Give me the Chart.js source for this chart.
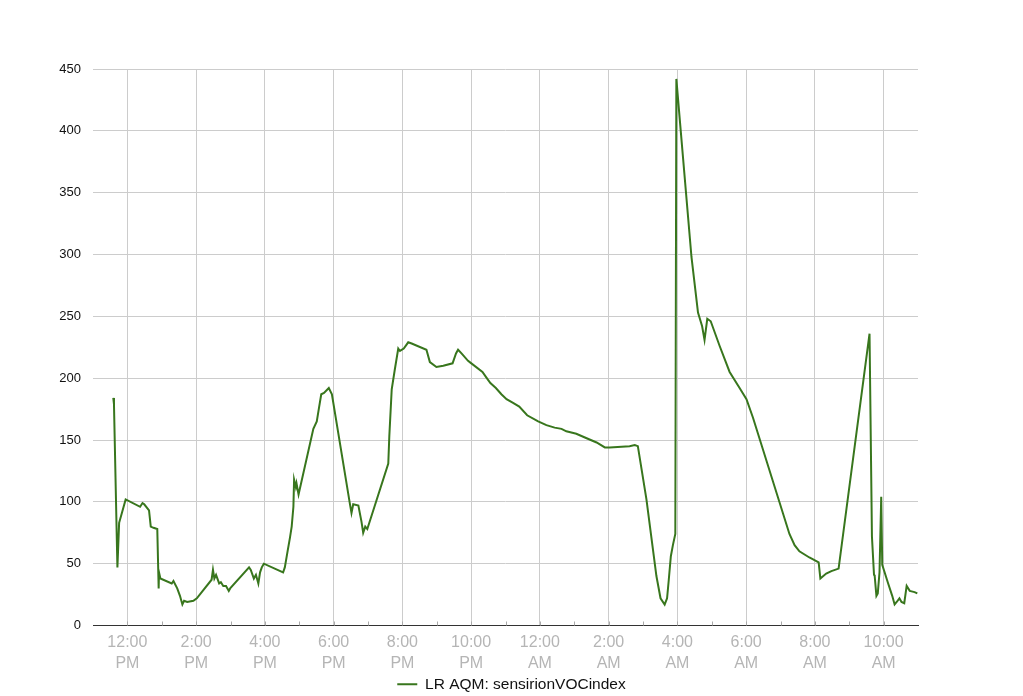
<!DOCTYPE html>
<html>
<head>
<meta charset="utf-8">
<title>LR AQM: sensirionVOCindex</title>
<script src="https://cdn.jsdelivr.net/npm/chart.js@4"></script>
<style>
    html, body { margin: 0; padding: 0; background: #fff; overflow: hidden; }
    #chartBox { width: 1023px; height: 702px; }
</style>
</head>
<body>
<div id="chartBox"><canvas id="vocChart"></canvas></div>
<script>
// hours since midnight of the first day (24 = 12:00 AM next day)
const times = [
    11.59, 11.61, 11.71, 11.76, 11.84, 11.95, 12.37, 12.44, 12.49, 12.63,
    12.68, 12.76, 12.87, 12.91, 12.92, 12.96, 13.29, 13.34, 13.45, 13.53,
    13.60, 13.65, 13.74, 13.92, 14.02, 14.45, 14.49, 14.53, 14.58, 14.67,
    14.72, 14.79, 14.87, 14.95, 14.99, 15.54, 15.59, 15.68, 15.74, 15.81,
    15.86, 15.91, 15.97, 16.53, 16.58, 16.66, 16.73, 16.78, 16.83, 16.85,
    16.90, 16.92, 16.98, 17.41, 17.51, 17.58, 17.64, 17.72, 17.86, 17.95,
    18.47, 18.52, 18.57, 18.72, 18.81, 18.86, 18.92, 18.98, 19.59, 19.62,
    19.69, 19.78, 19.88, 19.93, 20.04, 20.17, 20.27, 20.70, 20.80, 20.99,
    21.19, 21.46, 21.56, 21.62, 21.72, 21.91, 21.96, 22.33, 22.43, 22.56,
    22.72, 22.88, 23.03, 23.22, 23.40, 23.63, 23.95, 24.19, 24.43, 24.63,
    24.77, 25.06, 25.31, 25.65, 25.89, 26.03, 26.61, 26.76, 26.85, 27.10,
    27.39, 27.51, 27.63, 27.70, 27.75, 27.81, 27.87, 27.94, 27.97, 28.07,
    28.41, 28.60, 28.72, 28.79, 28.87, 28.97, 29.23, 29.52, 29.81, 30.01,
    30.20, 31.26, 31.41, 31.55, 31.84, 32.11, 32.16, 32.33, 32.48, 32.69,
    33.59, 33.66, 33.72, 33.74, 33.79, 33.83, 33.88, 33.93, 33.96, 34.12,
    34.25, 34.32, 34.38, 34.46, 34.52, 34.60, 34.67, 34.76, 34.90, 34.98
];

const vocIndex = [
    184, 179, 47, 83, 91, 102, 96, 99, 98, 93,
    80, 79, 78, 30, 43, 38, 34, 36, 30, 24,
    17, 20, 19, 20, 22, 37, 45, 38, 41, 34,
    35, 32, 32, 28, 30, 47, 45, 38, 41, 34,
    43, 47, 50, 43, 47, 60, 71, 80, 96, 118,
    112, 115, 106, 159, 165, 177, 187, 188, 192, 187,
    99, 91, 98, 97, 84, 75, 80, 78, 131, 153,
    191, 207, 224, 222, 224, 229, 228, 223, 213, 209,
    210, 212, 220, 223, 220, 214, 213, 205, 201, 196,
    192, 187, 183, 180, 177, 170, 165, 162, 160, 159,
    157, 155, 152, 148, 144, 144, 145, 146, 145, 102,
    40, 22, 17, 22, 37, 56, 65, 74, 442, 409,
    298, 253, 242, 231, 248, 246, 226, 205, 192, 183,
    168, 74, 65, 60, 55, 51, 38, 42, 44, 46,
    236, 72, 41, 40, 24, 26, 43, 104, 49, 35,
    24, 17, 19, 22, 19, 18, 32, 28, 27, 26
];

const seriesLabel = "LR AQM: sensirionVOCindex";
const xMin = 11;   // 11:00 AM
const xMax = 35;   // 11:00 AM next day
const yTicks = [0, 50, 100, 150, 200, 250, 300, 350, 400, 450];

const LINE_COLOR = "#38761d";
const GRID_COLOR = "#cccccc";
const FONT = "Arial, 'Liberation Sans', sans-serif";

function hourLabel(h) {
    const hod = ((h % 24) + 24) % 24;
    const h12 = ((hod + 11) % 12) + 1;
    return [h12 + ":00", hod < 12 ? "AM" : "PM"];
}

// little tick marks at every hour, sitting on top of the axis line
const hourMarks = {
    id: "hourMarks",
    afterDatasetsDraw(chart) {
        const xs = chart.scales.x;
        const ctx = chart.ctx;
        const bottom = chart.chartArea.bottom;
        ctx.save();
        ctx.strokeStyle = "#aaa";
        ctx.lineWidth = 1;
        for (let h = xMin + 1; h < xMax; h++) {
            const px = Math.round(xs.getPixelForValue(h)) + 0.5;
            ctx.beginPath();
            ctx.moveTo(px, bottom - 4);
            ctx.lineTo(px, bottom);
            ctx.stroke();
        }
        ctx.restore();
    }
};

function drawChart() {
    const ctx = document.getElementById("vocChart").getContext("2d");
    const points = times.map((t, i) => ({ x: t, y: vocIndex[i] }));

    new Chart(ctx, {
        type: "line",
        data: {
            datasets: [{
                label: seriesLabel,
                data: points,
                borderColor: LINE_COLOR,
                backgroundColor: LINE_COLOR,
                borderWidth: 2,
                pointRadius: 0,
                tension: 0,
                fill: false
            }]
        },
        options: {
            responsive: true,
            maintainAspectRatio: false,
            animation: false,
            layout: {
                padding: { top: 69, right: 0, left: 0, bottom: 0 }
            },
            scales: {
                x: {
                    type: "linear",
                    min: xMin,
                    max: xMax,
                    afterFit: (scale) => { scale.height = 47; },
                    ticks: {
                        stepSize: 1,
                        autoSkip: false,
                        maxRotation: 0,
                        padding: 6,
                        color: "#b5b5b5",
                        font: { family: FONT, size: 16, lineHeight: 1.35 },
                        callback: (v) => (v % 2 === 0 ? hourLabel(v) : "")
                    },
                    grid: {
                        drawTicks: false,
                        color: (c) => (c.tick && c.tick.value % 2 === 0 ? GRID_COLOR : "rgba(0,0,0,0)")
                    },
                    border: { display: true, color: "#333", width: 1 }
                },
                y: {
                    min: 0,
                    max: 450,
                    afterFit: (scale) => { scale.width = 93; },
                    afterBuildTicks: (scale) => { scale.ticks = yTicks.map(v => ({ value: v })); },
                    ticks: {
                        padding: 12,
                        color: "#111",
                        font: { family: FONT, size: 13 }
                    },
                    grid: { drawTicks: false, color: GRID_COLOR },
                    border: { display: false }
                },
                // empty axis that only keeps the blank margin on the right
                yRight: {
                    position: "right",
                    min: 0,
                    max: 450,
                    afterFit: (scale) => { scale.width = 105; },
                    ticks: { display: false },
                    grid: { display: false, drawTicks: false },
                    border: { display: false }
                }
            },
            plugins: {
                legend: {
                    position: "bottom",
                    labels: {
                        usePointStyle: true,
                        pointStyle: "line",
                        pointStyleWidth: 20,
                        color: "#111",
                        padding: 4,
                        font: { family: FONT, size: 15.5 }
                    }
                },
                tooltip: { enabled: false }
            }
        },
        plugins: [hourMarks]
    });
}

window.onload = drawChart;
</script>
</body>
</html>
